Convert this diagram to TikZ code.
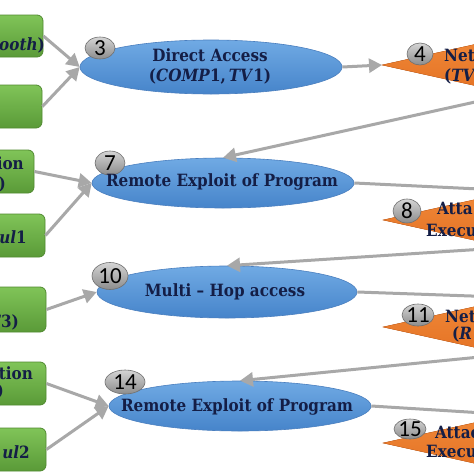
\documentclass[tikz,border=0pt]{standalone}
\usepackage{fontspec}
\newfontfamily\numfont{Carlito}
\newfontfamily\lblfont{DejaVu Serif Condensed}
\usetikzlibrary{arrows.meta,shapes.geometric}
\definecolor{navy}{RGB}{20,30,70}
\definecolor{argray}{RGB}{168,168,168}
\definecolor{gtop}{RGB}{128,196,88}
\definecolor{gbot}{RGB}{90,154,56}
\definecolor{gdraw}{RGB}{80,138,48}
\definecolor{btop}{RGB}{112,170,228}
\definecolor{bbot}{RGB}{70,132,202}
\definecolor{bdraw}{RGB}{74,127,191}
\definecolor{otop}{RGB}{242,140,60}
\definecolor{obot}{RGB}{226,110,32}
\definecolor{ktop}{RGB}{212,212,212}
\definecolor{kbot}{RGB}{140,140,140}
\definecolor{kdraw}{RGB}{112,112,112}
\tikzset{
  gbox/.style={draw=gdraw, line width=0.8pt, rounded corners=6pt, top color=gtop, bottom color=gbot, inner sep=0pt},
  bell/.style={ellipse, draw=bdraw, line width=0.6pt, top color=btop, bottom color=bbot, inner sep=0pt},
  badge/.style={ellipse, draw=kdraw, line width=0.6pt, top color=ktop, bottom color=kbot, inner sep=0pt},
  numtxt/.style={inner sep=0pt, font=\numfont\fontsize{23}{23}\selectfont, text=black},
  lbl/.style={inner sep=0pt, align=center, text=navy, font=\lblfont\fontsize{16.9}{19.5}\selectfont\bfseries},
  wedge/.style={top color=otop, bottom color=obot, draw=obot, line width=0.4pt},
  conn/.style={draw=argray, line width=3pt, -{Triangle[length=13pt,width=14pt]}},
  plainline/.style={draw=argray, line width=3pt}
}
\begin{document}
\begin{tikzpicture}[x=1pt,y=-1pt]
\useasboundingbox (0,0) rectangle (474,474);
\clip (0,0) rectangle (474,474);
\fill[white] (0,0) rectangle (474,474);

% green boxes
\node[gbox, minimum width=143pt, minimum height=42pt] (bA) at (-28.5,36) {};
\node[gbox, minimum width=142pt, minimum height=43pt] (bB) at (-29,106.5) {};
\node[gbox, minimum width=134pt, minimum height=43pt] (bC) at (-33,171.5) {};
\node[gbox, minimum width=145pt, minimum height=43pt] (bD) at (-27.5,235.5) {};
\node[gbox, minimum width=146pt, minimum height=45pt] (bE) at (-27,309.5) {};
\node[gbox, minimum width=146pt, minimum height=43pt] (bF) at (-27,383.5) {};
\node[gbox, minimum width=146pt, minimum height=43pt] (bG) at (-27,449.5) {};

% orange wedges
\coordinate (t4) at (382,65);
\coordinate (t8) at (383,220);
\coordinate (t11) at (383,327);
\coordinate (t15) at (383,443);
\fill[wedge] (t4) -- ++(176,-39) -- ++(0,78) -- cycle;
\fill[wedge] (t8) -- ++(176,-39) -- ++(0,78) -- cycle;
\fill[wedge] (t11) -- ++(176,-39) -- ++(0,78) -- cycle;
\fill[wedge] (t15) -- ++(176,-39) -- ++(0,78) -- cycle;

% blue ellipses
\node[bell, minimum width=262pt, minimum height=54pt] (e3) at (211,67) {};
\node[bell, minimum width=262pt, minimum height=50pt] (e7) at (223,183) {};
\node[bell, minimum width=260pt, minimum height=52pt] (e10) at (227,292) {};
\node[bell, minimum width=262pt, minimum height=50pt] (e14) at (240,406) {};

% connectors
\draw[conn] (bA.east) -- (e3.west);
\draw[conn] (bB.east) -- (e3.west);
\draw[conn] (e3.east) -- (t4);
\draw[conn] (bC.east) -- (e7.west);
\draw[conn] (bD.east) -- (e7.west);
\draw[conn] (bE.east) -- (e10.west);
\draw[conn] (bF.east) -- (e14.west);
\draw[conn] (bG.east) -- (e14.west);

\coordinate (r7) at (500,96.5);
\coordinate (o7) at (500,190);
\coordinate (r10) at (500,248);
\coordinate (o10) at (500,297);
\coordinate (r14) at (500,355);
\coordinate (o14) at (500,414);
\draw[conn] (r7) -- (e7.north);
\draw[plainline] (e7.east) -- (o7);
\draw[conn] (r10) -- (e10.north);
\draw[plainline] (e10.east) -- (o10);
\draw[conn] (r14) -- (e14.north);
\draw[plainline] (e14.east) -- (o14);

% badges
\node[badge, minimum width=30pt, minimum height=22pt] (n3) at (100,48) {};
\node[badge, minimum width=30pt, minimum height=24pt] (n7) at (110,163) {};
\node[badge, minimum width=36pt, minimum height=27pt] (n10) at (110,276) {};
\node[badge, minimum width=40pt, minimum height=24pt] (n14) at (125,382) {};
\node[badge, minimum width=26pt, minimum height=22pt] (n4) at (420,54) {};
\node[badge, minimum width=28pt, minimum height=24pt] (n8) at (407,211) {};
\node[badge, minimum width=32pt, minimum height=22pt] (n11) at (418,315) {};
\node[badge, minimum width=32pt, minimum height=20pt] (n15) at (410,429) {};
\node[numtxt] (m3) at (n3) {3};
\node[numtxt] (m7) at (n7) {7};
\node[numtxt] (m10) at (n10) {10};
\node[numtxt] (m14) at (n14) {14};
\node[numtxt] (m4) at (n4) {4};
\node[numtxt] (m8) at (n8) {8};
\node[numtxt] (m11) at (n11) {11};
\node[numtxt] (m15) at (n15) {15};

% ellipse labels
\node[lbl] (l3) at (210,66.5) {Direct Access\\(\textit{COMP}1,\,\textit{TV}1)};
\node[lbl] (l7) at (222,182) {Remote Exploit of Program};
\node[lbl] (l10) at (225,292) {Multi \textendash\ Hop access};
\node[lbl] (l14) at (237,407) {Remote Exploit of Program};

% wedge labels
\node[lbl, anchor=west] (w4a) at (444,55) {Net};
\node[lbl, anchor=west] (w4b) at (444,76) {(\textit{TV}};
\node[lbl, anchor=west] (w8a) at (437,208) {Atta};
\node[lbl, anchor=west] (w8b) at (426,230) {Execu};
\node[lbl, anchor=west] (w11a) at (445,316) {Net};
\node[lbl, anchor=west] (w11b) at (452,334) {(\textit{R}};
\node[lbl, anchor=west] (w15a) at (435,432) {Attac};
\node[lbl, anchor=west] (w15b) at (426,451) {Execu};

% box labels
\node[lbl, anchor=east] (xA) at (45,45) {\textit{ooth})};
\node[lbl, anchor=east] (xC1) at (24,163) {ion};
\node[lbl, anchor=east] (xC2) at (6,184) {)};
\node[lbl, anchor=east] (xD) at (27,237) {\textit{ul}1};
\node[lbl, anchor=east] (xE) at (19,322) {\textit{T}3)};
\node[lbl, anchor=east] (xF1) at (33,373) {tion};
\node[lbl, anchor=east] (xF2) at (4,391) {)};
\node[lbl, anchor=east] (xG) at (30,452) {\textit{ul}2};
\end{tikzpicture}
\end{document}
